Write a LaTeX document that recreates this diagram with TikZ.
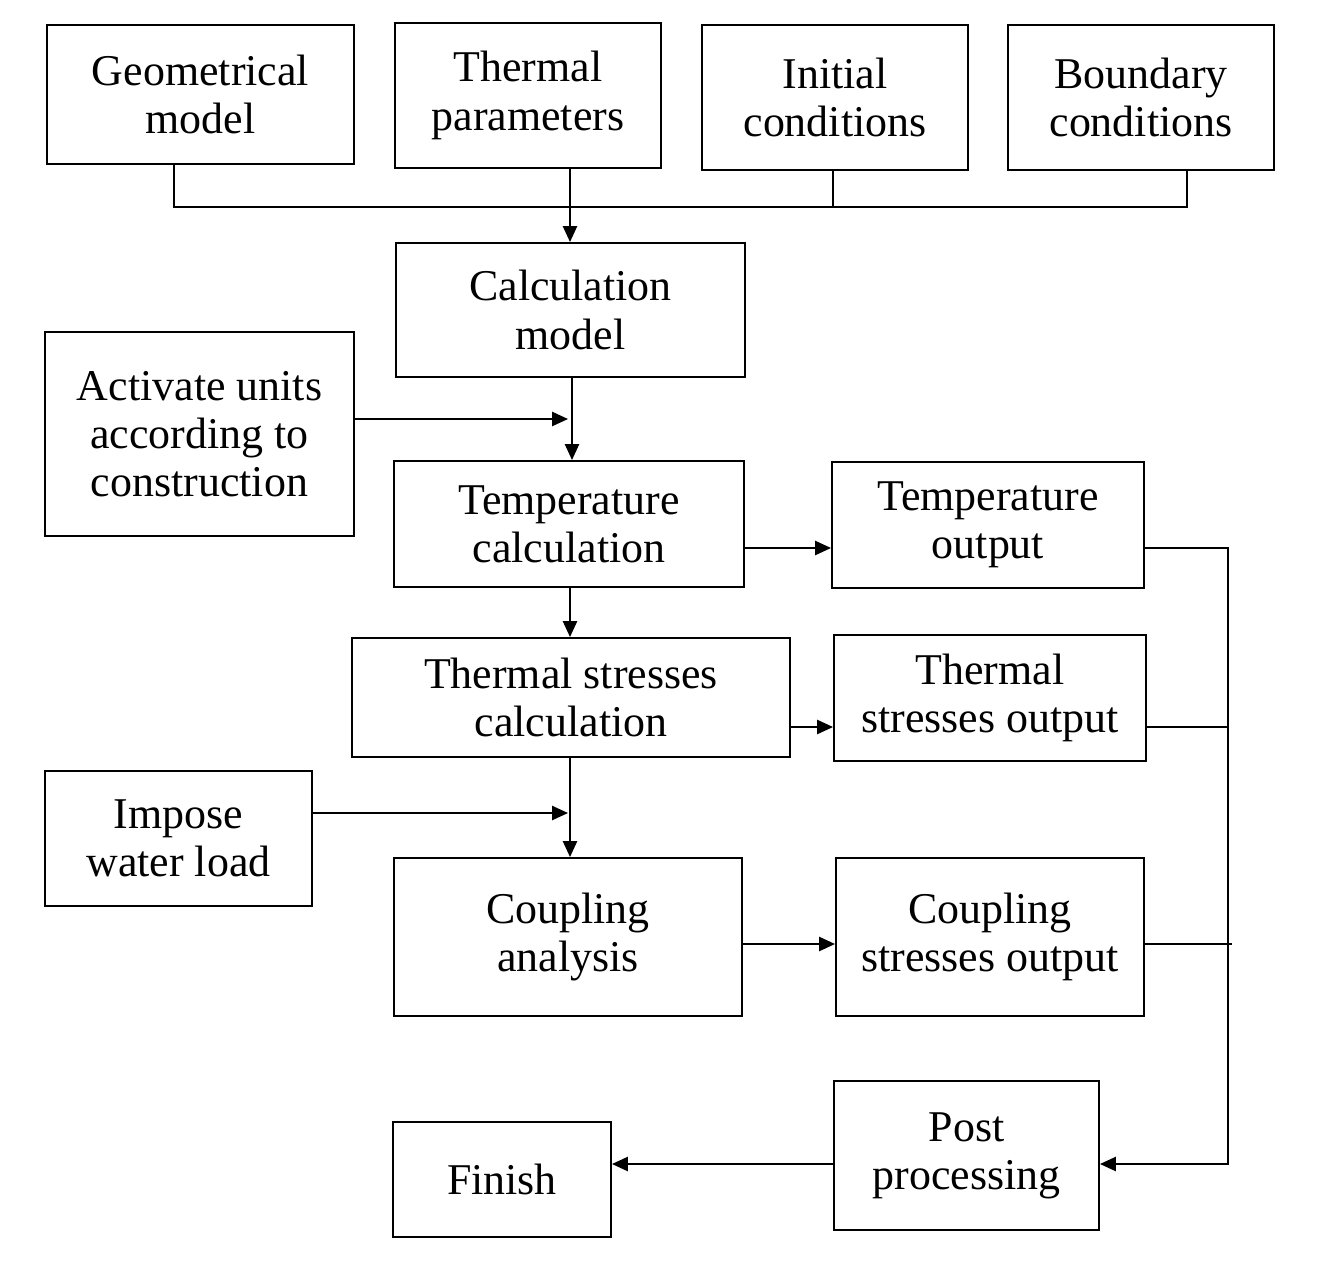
\documentclass[tikz,border=0pt]{standalone}
\usepackage{fontspec}
\setmainfont{Liberation Serif}
\usetikzlibrary{arrows.meta}
\begin{document}
\begin{tikzpicture}[x=0.02cm,y=-0.02cm,line width=1.1pt,
  bx/.style={draw,align=center,inner sep=0pt,font=\fontsize{25}{27.5}\selectfont},
  ar/.style={-{Triangle[length=9pt,width=8pt]}}]
\useasboundingbox (0,0) rectangle (1321,1271);
\newcommand\bx[6]{\node[bx,minimum width={(#4-#2)*0.02cm},minimum height={(#5-#3)*0.02cm}] (#1) at ({(#2+#4)/2},{(#3+#5)/2}) {#6};}
\bx{geo}{47}{25}{354}{164}{Geometrical\\model}
\bx{tp}{395}{23}{661}{168}{Thermal\\parameters}
\bx{ic}{702}{25}{968}{170}{Initial\\conditions}
\bx{bc}{1008}{25}{1274}{170}{Boundary\\conditions}
\bx{cm}{396}{243}{745}{377}{Calculation\\model}
\bx{act}{45}{332}{354}{536}{Activate units\\according to\\construction}
\bx{tc}{394}{461}{744}{587}{Temperature\\calculation}
\bx{to}{832}{462}{1144}{588}{Temperature\\output}
\bx{tsc}{352}{638}{790}{757}{Thermal stresses\\calculation}
\bx{tso}{834}{635}{1146}{761}{Thermal\\stresses output}
\bx{iw}{45}{771}{312}{906}{Impose\\water load}
\bx{ca}{394}{858}{742}{1016}{Coupling\\analysis}
\bx{cso}{836}{858}{1144}{1016}{Coupling\\stresses output}
\bx{pp}{834}{1081}{1099}{1230}{Post\\processing}
\bx{fin}{393}{1122}{611}{1237}{Finish}
\coordinate (bus) at (570,207);
\draw (geo.south -| 174,0) |- (bus -| 1187,0) -- (bc.south -| 1187,0);
\draw (ic.south -| 833,0) -- (833,207);
\draw[ar] (tp.south -| 570,0) -- (cm.north -| 570,0);
\draw[ar] (cm.south -| 572,0) -- (tc.north -| 572,0);
\draw[ar] (act.east |- 0,419) -- (568,419);
\draw[ar] (tc.east |- 0,548) -- (to.west |- 0,548);
\draw[ar] (tc.south -| 570,0) -- (tsc.north -| 570,0);
\draw[ar] (tsc.east |- 0,727) -- (tso.west |- 0,727);
\draw[ar] (tsc.south -| 570,0) -- (ca.north -| 570,0);
\draw[ar] (iw.east |- 0,813) -- (568,813);
\draw[ar] (ca.east |- 0,944) -- (cso.west |- 0,944);
\draw[ar] (to.east |- 0,548) -| (1228,1164) -- (pp.east |- 0,1164);
\draw (tso.east |- 0,727) -- (1228,727);
\draw (cso.east |- 0,944) -- (1232,944);
\draw[ar] (pp.west |- 0,1164) -- (fin.east |- 0,1164);
\end{tikzpicture}
\end{document}
